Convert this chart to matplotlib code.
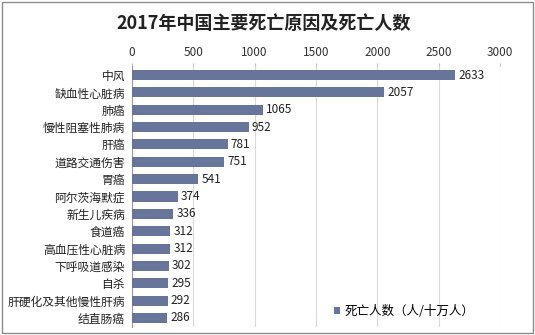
import matplotlib
matplotlib.use("Agg")
import matplotlib.pyplot as plt
from matplotlib.patches import Rectangle

plt.rcParams['font.family'] = ['Noto Sans CJK SC', 'DejaVu Sans']

categories = ["中风", "缺血性心脏病", "肺癌", "慢性阻塞性肺病", "肝癌", "道路交通伤害", "胃癌",
              "阿尔茨海默症", "新生儿疾病", "食道癌", "高血压性心脏病", "下呼吸道感染", "自杀",
              "肝硬化及其他慢性肝病", "结直肠癌"]
values = [2633, 2057, 1065, 952, 781, 751, 541, 374, 336, 312, 312, 302, 295, 292, 286]
xticks = [0, 500, 1000, 1500, 2000, 2500, 3000]
title = "2017年中国主要死亡原因及死亡人数"
legend_label = "死亡人数（人/十万人）"
bar_color = "#67759B"

fig = plt.figure(figsize=(5.35, 3.35), dpi=100)
fig.patches.append(Rectangle((0.004, 0.006), 0.992, 0.988, transform=fig.transFigure,
                             fill=False, edgecolor="#8c8c8c", linewidth=1.0))
ax = fig.add_axes([0.2467, 0.025, 0.688, 0.777])

y = list(range(len(categories)))
bars = ax.barh(y, values, height=0.58, color=bar_color, label=legend_label, zorder=3)
ax.set_ylim(len(categories) - 0.5, -0.5)
ax.set_xlim(0, 3000)
ax.set_xticks(xticks)
ax.xaxis.tick_top()
ax.tick_params(axis='x', length=2, color="#bfbfbf", labelsize=8.5, labelcolor="#333333", pad=3)
ax.set_yticks(y)
ax.set_yticklabels(categories, fontsize=8.5, color="#222222")
ax.tick_params(axis='y', length=0, pad=5)
ax.grid(axis='x', color="#d9d9d9", linewidth=0.8, zorder=0)
for s in ["right", "bottom", "top"]:
    ax.spines[s].set_visible(False)
ax.spines["left"].set_color("#999999")
for i, v in enumerate(values):
    ax.text(v + 25, i, str(v), va='center', ha='left', fontsize=8.5, color="#222222", zorder=4)

ax.legend(loc='lower right', bbox_to_anchor=(0.96, -0.01), frameon=False, fontsize=9,
          handlelength=0.5, handleheight=0.5, handletextpad=0.3)
fig.text(0.492, 0.93, title, ha='center', va='center', fontsize=13, fontweight='bold', color="#222222")

fig.savefig("out.png", dpi=100)
